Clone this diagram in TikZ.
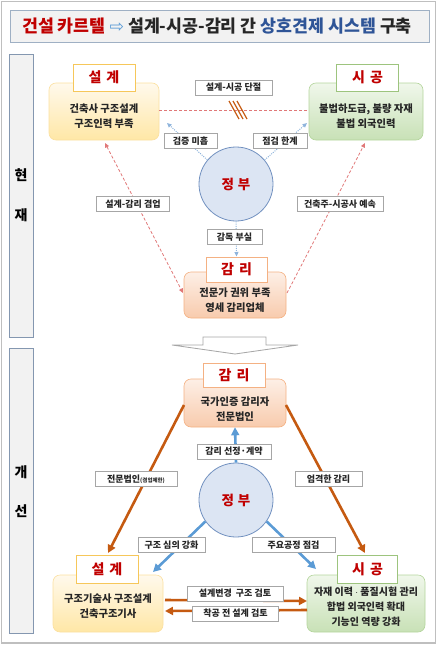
\documentclass[tikz,border=0pt]{standalone}
\usepackage{fontspec}
\setmainfont{Noto Sans CJK KR}
\newfontfamily\dejavu{DejaVu Sans}
\usetikzlibrary{arrows.meta}
\definecolor{dred}{HTML}{C00000}
\definecolor{tblue}{HTML}{2F5597}
\definecolor{abl}{HTML}{5B9BD5}
\definecolor{ora}{HTML}{C55A11}
\definecolor{dashred}{HTML}{E07878}
\definecolor{dotblue}{HTML}{8FB4DC}
\definecolor{lblgray}{HTML}{A6A6A6}
\definecolor{bargray}{HTML}{F2F2F2}
\definecolor{barline}{HTML}{8497B0}
\definecolor{frame}{HTML}{BFBFBF}
\definecolor{ttlbox}{HTML}{9FB0C4}
\definecolor{ytitle}{HTML}{F6C75A}
\definecolor{ytop}{HTML}{FFF9EC}
\definecolor{ybot}{HTML}{FFE7A6}
\definecolor{yline}{HTML}{FBE0A0}
\definecolor{gtitle}{HTML}{9DC47E}
\definecolor{gtop}{HTML}{F0F7EB}
\definecolor{gbot}{HTML}{C8E1B6}
\definecolor{gline}{HTML}{B4D59C}
\definecolor{otitle}{HTML}{F4B183}
\definecolor{otop}{HTML}{FDEFE6}
\definecolor{obot}{HTML}{F8CBAD}
\definecolor{oline}{HTML}{F4B183}
\definecolor{govfill}{HTML}{DCE5F3}
\definecolor{govline}{HTML}{7291C0}
\definecolor{txt}{HTML}{262626}
\begin{document}
\begin{tikzpicture}[x=1pt,y=-1pt,
  every node/.style={font=\bfseries, text=txt},
  lab/.style={draw=lblgray, fill=white, line width=0.6pt,
    font=\bfseries\fontsize{9}{10}\selectfont, inner xsep=2pt, inner ysep=1.5pt, minimum height=15pt, minimum width=#1},
  lab/.default=40pt,
  bodytext/.style={align=center, font=\bfseries\fontsize{10.3}{15}\selectfont},
  ttl/.style={rectangle, fill=white, draw=#1, line width=1pt, minimum width=62pt, minimum height=27pt,
    font=\bfseries\fontsize{14}{14}\selectfont, text=dred, inner sep=0pt},
  ybody/.style={rectangle, rounded corners=7pt, draw=yline, top color=ytop, bottom color=ybot, line width=0.6pt},
  gbody/.style={rectangle, rounded corners=7pt, draw=gline, top color=gtop, bottom color=gbot, line width=0.6pt},
  obody/.style={rectangle, rounded corners=7pt, draw=oline, top color=otop, bottom color=obot, line width=0.6pt},
  gov/.style={circle, draw=govline, fill=govfill, line width=0.8pt, minimum size=74pt, inner sep=0pt,
    font=\bfseries\fontsize{13.5}{13.5}\selectfont, text=dred},
  bar/.style={rectangle, draw=barline, fill=bargray, line width=0.8pt, minimum width=24pt},
  side/.style={font=\bfseries\fontsize{14}{14}\selectfont, text=black},
  dashr/.style={draw=dashred, dash pattern=on 3pt off 2pt, line width=0.8pt},
  dotb/.style={draw=dotblue, dash pattern=on 1pt off 1.2pt, line width=1pt},
  smalltip/.style={-{Triangle[length=4.5pt,width=4pt]}},
  thicko/.style={draw=ora, line width=2.6pt, -{Triangle[length=8pt,width=8pt]}},
  thickb/.style={draw=abl, line width=2.6pt, -{Triangle[length=8pt,width=8pt]}},
  bigarr/.style={draw=lblgray, fill=white, line width=0.8pt}
]
\useasboundingbox (0,0) rectangle (437,645);
\draw[frame, line width=1.5pt] (1.5,1.5) rectangle (435.5,643);

% title
\node[rectangle, draw=ttlbox, fill=bargray, line width=0.8pt, minimum width=419pt, minimum height=32pt] (tbox) at (219.5,26) {};
\node (title) at (217,26) {\fontsize{17.3}{17}\selectfont\textcolor{dred}{건설 카르텔}\ {\dejavu\mdseries\textcolor{abl}{⇨}}\ 설계-시공-감리 간 \textcolor{tblue}{상호견제 시스템} 구축};

% side bars
\node[bar, minimum height=283pt] (bar1) at (21,195.5) {};
\node[bar, minimum height=285pt] (bar2) at (21,490.5) {};
\node[side] (s1) at (21,175) {현};
\node[side] (s2) at (21,215) {재};
\node[side] (s3) at (21,472) {개};
\node[side] (s4) at (21,511) {선};

% ===== current =====
\node[ybody, minimum width=110pt, minimum height=57pt] (seol1) at (104,111.5) {};
\node[bodytext] (seol1t) at (104,116) {건축사 구조설계\\구조인력 부족};
\node[ttl=ytitle] (seol1h) at (104,77.5) {설\hspace{5pt}계};

\node[gbody, minimum width=114pt, minimum height=57pt] (sig1) at (366,111.5) {};
\node[bodytext] (sig1t) at (366,116) {불법하도급, 불량 자재\\불법 외국인력};
\node[ttl=gtitle] (sig1h) at (367.5,77.5) {시\hspace{5pt}공};

\node[obody, minimum width=102pt, minimum height=46pt] (gam1) at (235,295) {};
\node[bodytext] (gam1t) at (235,300) {전문가 권위 부족\\영세 감리업체};
\node[ttl=otitle, minimum width=61pt, minimum height=25pt] (gam1h) at (236.5,269.5) {감\hspace{5pt}리};

\node[gov] (gov1) at (236,184) {정\hspace{4pt}부};

\coordinate (c1a) at (167,123);
\coordinate (c1b) at (307,123);
\coordinate (c1c) at (105,143);
\coordinate (c1d) at (183,293);
\coordinate (c1e) at (287,293);
\coordinate (c1f) at (365,143);

\draw[dashr] (seol1.east |- 0,110) -- (sig1.west |- 0,110);
\foreach \k in {0,1,2} \draw[ora, line width=1.2pt] (229+4*\k,101) -- (239+4*\k,119);
\draw[dotb, smalltip] (gov1.140) -- (c1a);
\draw[dotb, smalltip] (gov1.40) -- (c1b);
\draw[dotb, smalltip] (gov1.south) -- (gam1h.north);
\draw[dashr, {Triangle[length=4.5pt,width=4pt]}-{Triangle[length=4.5pt,width=4pt]}] (c1c) -- (c1d);
\draw[dashr, smalltip] (c1e) -- (c1f);

\node[lab=77pt] (l1) at (233.5,87.5) {설계-시공 단절};
\node[lab=53pt] (l2) at (190.5,141) {검증 미흡};
\node[lab=54pt] (l3) at (280,141) {점검 한계};
\node[lab=73pt] (l4) at (133,204) {설계-감리 겸업};
\node[lab=86pt] (l5) at (340,204) {건축주-시공사 예속};
\node[lab=55pt] (l6) at (234.5,237) {감독 부실};

% big arrow
\draw[bigarr] (203,337) -- (266,337) -- (266,345) -- (298,345) -- (235,354) -- (172,345) -- (203,345) -- cycle;

% ===== improved =====
\node[obody, minimum width=102pt, minimum height=48pt] (gam2) at (235,403) {};
\node[bodytext] (gam2t) at (235,409.5) {국가인증 감리자\\전문법인};
\node[ttl=otitle, minimum width=62pt, minimum height=24pt] (gam2h) at (234,375) {감\hspace{5pt}리};

\node[ybody, minimum width=110pt, minimum height=57pt] (seol2) at (108,603.5) {};
\node[bodytext] (seol2t) at (108,606.5) {구조기술사 구조설계\\건축구조기사};
\node[ttl=ytitle, minimum height=28pt] (seol2h) at (107,569) {설\hspace{5pt}계};

\node[gbody, minimum width=118pt, minimum height=57pt] (sig2) at (366,603.5) {};
\node[bodytext, font=\bfseries\fontsize{10}{15}\selectfont] (sig2t) at (366,607) {자재 이력 $\cdot$ 품질시험 관리\\합법 외국인력 확대\\기능인 역량 강화};
\node[ttl=gtitle, minimum width=60pt, minimum height=28pt] (sig2h) at (367.5,569) {시\hspace{5pt}공};

\node[gov] (gov2) at (236,500) {정\hspace{4pt}부};

\coordinate (c2a) at (184,405);
\coordinate (c2b) at (108,553);
\coordinate (c2c) at (286,405);
\coordinate (c2d) at (365,553);
\coordinate (c2e) at (153,572);
\coordinate (c2f) at (316,569);
\coordinate (c2g) at (165,600);
\coordinate (c2h) at (307,601);
\coordinate (c2i) at (307,610);
\coordinate (c2j) at (165,611);

\draw[thickb] (gov2.north) -- (gam2.south);
\draw[thickb] (gov2.-145) -- (c2e);
\draw[thickb] (gov2.-35) -- (c2f);
\draw[thicko] (c2a) -- (c2b);
\draw[thicko] (c2c) -- (c2d);
\draw[thicko] (c2g) -- (c2h);
\draw[thicko] (c2i) -- (c2j);

\node[lab=74pt] (m1) at (234,451.5) {감리 선정·계약};
\node[lab=82pt] (m2) at (136,479) {전문법인{\fontsize{5.5}{6}\selectfont(겸업제한)}};
\node[lab=67pt] (m3) at (328.5,479) {엄격한 감리};
\node[lab=67pt] (m4) at (171.5,545) {구조 심의 강화};
\node[lab=83pt] (m5) at (293.5,545) {주요공정 점검};
\node[lab=96pt] (m6) at (235,593.5) {설계변경\hspace{4pt}구조 검토};
\node[lab=86pt] (m7) at (235.5,613.5) {착공 전 설계 검토};
\end{tikzpicture}
\end{document}
